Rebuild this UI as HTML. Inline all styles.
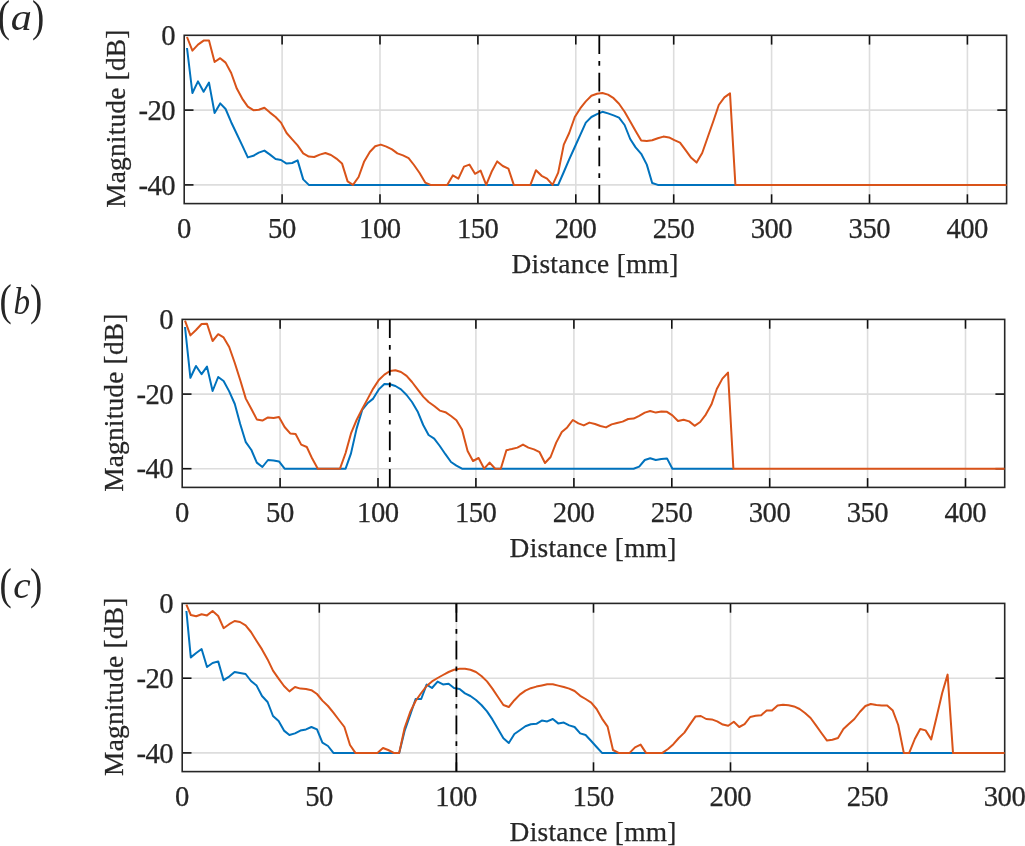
<!DOCTYPE html>
<html><head><meta charset="utf-8"><title>Magnitude vs distance</title>
<style>
html,body{margin:0;padding:0;background:#fff;}
body{width:1025px;height:846px;overflow:hidden;}
svg{display:block;}
svg text{font-family:"Liberation Serif","Times New Roman",serif;font-size:27.4px;fill:#262626;stroke:#262626;stroke-width:0.25px;}
svg text.lt{stroke:none;}
svg text.tk{font-size:28.7px;letter-spacing:-0.5px;}
</style></head><body>
<svg width="1025" height="846" viewBox="0 0 1025 846">
<rect width="1025" height="846" fill="#fff"/>
<line x1="282.1" y1="35.3" x2="282.1" y2="203.6" stroke="#DDDDDD" stroke-width="1.6"/>
<line x1="380.0" y1="35.3" x2="380.0" y2="203.6" stroke="#DDDDDD" stroke-width="1.6"/>
<line x1="477.9" y1="35.3" x2="477.9" y2="203.6" stroke="#DDDDDD" stroke-width="1.6"/>
<line x1="575.8" y1="35.3" x2="575.8" y2="203.6" stroke="#DDDDDD" stroke-width="1.6"/>
<line x1="673.7" y1="35.3" x2="673.7" y2="203.6" stroke="#DDDDDD" stroke-width="1.6"/>
<line x1="771.6" y1="35.3" x2="771.6" y2="203.6" stroke="#DDDDDD" stroke-width="1.6"/>
<line x1="869.5" y1="35.3" x2="869.5" y2="203.6" stroke="#DDDDDD" stroke-width="1.6"/>
<line x1="967.4" y1="35.3" x2="967.4" y2="203.6" stroke="#DDDDDD" stroke-width="1.6"/>
<line x1="184.2" y1="110.1" x2="1006.6" y2="110.1" stroke="#DDDDDD" stroke-width="1.6"/>
<line x1="184.2" y1="184.9" x2="1006.6" y2="184.9" stroke="#DDDDDD" stroke-width="1.6"/>
<text class="tk" x="183.9" y="238.2" text-anchor="middle">0</text>
<line x1="282.1" y1="203.6" x2="282.1" y2="194.3" stroke="#111111" stroke-width="1.6"/>
<line x1="282.1" y1="35.3" x2="282.1" y2="44.6" stroke="#111111" stroke-width="1.6"/>
<text class="tk" x="281.9" y="238.2" text-anchor="middle">50</text>
<line x1="380.0" y1="203.6" x2="380.0" y2="194.3" stroke="#111111" stroke-width="1.6"/>
<line x1="380.0" y1="35.3" x2="380.0" y2="44.6" stroke="#111111" stroke-width="1.6"/>
<text class="tk" x="379.8" y="238.2" text-anchor="middle">100</text>
<line x1="477.9" y1="203.6" x2="477.9" y2="194.3" stroke="#111111" stroke-width="1.6"/>
<line x1="477.9" y1="35.3" x2="477.9" y2="44.6" stroke="#111111" stroke-width="1.6"/>
<text class="tk" x="477.7" y="238.2" text-anchor="middle">150</text>
<line x1="575.8" y1="203.6" x2="575.8" y2="194.3" stroke="#111111" stroke-width="1.6"/>
<line x1="575.8" y1="35.3" x2="575.8" y2="44.6" stroke="#111111" stroke-width="1.6"/>
<text class="tk" x="575.6" y="238.2" text-anchor="middle">200</text>
<line x1="673.7" y1="203.6" x2="673.7" y2="194.3" stroke="#111111" stroke-width="1.6"/>
<line x1="673.7" y1="35.3" x2="673.7" y2="44.6" stroke="#111111" stroke-width="1.6"/>
<text class="tk" x="673.5" y="238.2" text-anchor="middle">250</text>
<line x1="771.6" y1="203.6" x2="771.6" y2="194.3" stroke="#111111" stroke-width="1.6"/>
<line x1="771.6" y1="35.3" x2="771.6" y2="44.6" stroke="#111111" stroke-width="1.6"/>
<text class="tk" x="771.4" y="238.2" text-anchor="middle">300</text>
<line x1="869.5" y1="203.6" x2="869.5" y2="194.3" stroke="#111111" stroke-width="1.6"/>
<line x1="869.5" y1="35.3" x2="869.5" y2="44.6" stroke="#111111" stroke-width="1.6"/>
<text class="tk" x="869.3" y="238.2" text-anchor="middle">350</text>
<line x1="967.4" y1="203.6" x2="967.4" y2="194.3" stroke="#111111" stroke-width="1.6"/>
<line x1="967.4" y1="35.3" x2="967.4" y2="44.6" stroke="#111111" stroke-width="1.6"/>
<text class="tk" x="967.2" y="238.2" text-anchor="middle">400</text>
<text class="tk" x="175.2" y="45.0" text-anchor="end">0</text>
<line x1="184.2" y1="110.1" x2="193.5" y2="110.1" stroke="#111111" stroke-width="1.6"/>
<line x1="1006.6" y1="110.1" x2="997.3" y2="110.1" stroke="#111111" stroke-width="1.6"/>
<text class="tk" x="175.2" y="119.8" text-anchor="end">-20</text>
<line x1="184.2" y1="184.9" x2="193.5" y2="184.9" stroke="#111111" stroke-width="1.6"/>
<line x1="1006.6" y1="184.9" x2="997.3" y2="184.9" stroke="#111111" stroke-width="1.6"/>
<text class="tk" x="175.2" y="194.6" text-anchor="end">-40</text>
<rect x="184.2" y="35.3" width="822.4" height="168.3" fill="none" stroke="#262626" stroke-width="1.6"/>
<polyline points="187.0,48.0 192.4,93.0 198.0,81.4 203.6,91.8 209.0,82.6 214.6,113.0 220.2,103.4 225.6,109.0 231.2,122.2 236.8,134.0 242.2,145.4 247.8,157.4 253.4,155.8 258.8,152.6 264.4,150.6 270.0,154.6 275.6,159.0 281.0,160.0 286.6,163.6 292.2,163.0 297.6,160.4 303.2,179.4 308.8,184.9 558.2,184.9 563.8,172.0 569.2,159.4 574.8,147.0 580.4,134.6 585.8,122.6 591.4,117.0 597.0,114.2 602.4,111.8 608.0,113.4 613.6,115.4 619.0,117.6 624.6,125.0 630.2,139.0 635.6,147.4 641.2,153.8 646.8,164.6 652.2,183.0 657.8,184.9 735.4,184.9" fill="none" stroke="#0072BD" stroke-width="2.0" stroke-linejoin="round"/>
<polyline points="187.0,37.0 192.4,50.6 198.0,44.6 203.6,40.6 209.0,40.4 214.6,62.0 220.2,58.2 225.6,62.6 231.2,73.0 236.8,88.6 242.2,98.6 247.8,106.6 253.4,110.2 258.8,109.8 264.4,107.8 270.0,112.6 275.6,117.0 281.0,122.6 286.6,133.0 292.2,139.4 297.6,145.4 303.2,153.4 308.8,156.6 314.2,157.0 319.8,154.6 325.4,153.0 331.0,155.0 336.4,158.6 342.0,163.4 347.6,181.4 353.0,184.9 358.6,177.0 364.2,161.4 369.8,152.0 375.2,146.2 380.8,144.6 386.4,146.6 392.0,149.4 397.4,153.4 403.0,155.4 408.6,158.2 414.0,165.0 419.6,173.0 425.2,182.6 430.6,184.9 436.2,184.9 441.8,184.9 447.2,184.9 452.8,175.4 458.4,178.6 464.0,166.6 469.4,164.6 475.0,173.8 480.6,170.6 486.2,184.9 491.6,171.8 497.2,161.4 502.8,166.0 508.4,168.6 513.8,184.9 519.4,184.9 525.0,184.9 530.4,184.9 536.0,170.2 541.6,175.8 547.0,178.6 552.6,184.9 558.2,172.6 563.8,144.6 569.2,133.0 574.8,117.0 580.4,108.2 585.8,101.4 591.4,95.8 597.0,93.8 602.4,93.0 608.0,94.6 613.6,98.2 619.0,103.8 624.6,111.8 630.2,121.4 635.6,131.0 641.2,140.6 646.8,141.0 652.2,140.2 657.8,138.2 663.4,136.6 669.0,137.4 674.4,140.2 680.0,142.6 685.6,150.2 691.2,157.8 696.6,162.6 702.2,153.0 707.8,137.0 713.4,121.0 718.8,105.0 724.4,97.4 730.0,93.4 735.4,184.9 1006.6,184.9" fill="none" stroke="#D95319" stroke-width="2.0" stroke-linejoin="round"/>
<line x1="599.3" y1="35.3" x2="599.3" y2="203.6" stroke="#000" stroke-width="1.8" stroke-dasharray="18.7 7 4.7 7"/>
<text x="594.9" y="273.3" text-anchor="middle" textLength="166.8" lengthAdjust="spacing">Distance [mm]</text>
<text transform="translate(124.6,118.7) rotate(-90)" text-anchor="middle" textLength="178.2" lengthAdjust="spacing">Magnitude [dB]</text>
<text class="lt" transform="translate(-2.30,30.80) scale(0.92,1.107)" style="font-size:40px">(</text>
<text class="lt" transform="translate(10.80,30.20) scale(1.14,1)" style="font-size:37px;font-style:italic">a</text>
<text class="lt" transform="translate(32.00,30.80) scale(0.92,1.107)" style="font-size:40px">)</text>
<line x1="280.1" y1="319.4" x2="280.1" y2="487.4" stroke="#DDDDDD" stroke-width="1.6"/>
<line x1="378.0" y1="319.4" x2="378.0" y2="487.4" stroke="#DDDDDD" stroke-width="1.6"/>
<line x1="475.9" y1="319.4" x2="475.9" y2="487.4" stroke="#DDDDDD" stroke-width="1.6"/>
<line x1="573.9" y1="319.4" x2="573.9" y2="487.4" stroke="#DDDDDD" stroke-width="1.6"/>
<line x1="671.8" y1="319.4" x2="671.8" y2="487.4" stroke="#DDDDDD" stroke-width="1.6"/>
<line x1="769.7" y1="319.4" x2="769.7" y2="487.4" stroke="#DDDDDD" stroke-width="1.6"/>
<line x1="867.6" y1="319.4" x2="867.6" y2="487.4" stroke="#DDDDDD" stroke-width="1.6"/>
<line x1="965.5" y1="319.4" x2="965.5" y2="487.4" stroke="#DDDDDD" stroke-width="1.6"/>
<line x1="182.2" y1="394.1" x2="1004.7" y2="394.1" stroke="#DDDDDD" stroke-width="1.6"/>
<line x1="182.2" y1="468.7" x2="1004.7" y2="468.7" stroke="#DDDDDD" stroke-width="1.6"/>
<text class="tk" x="181.9" y="522.0" text-anchor="middle">0</text>
<line x1="280.1" y1="487.4" x2="280.1" y2="478.1" stroke="#111111" stroke-width="1.6"/>
<line x1="280.1" y1="319.4" x2="280.1" y2="328.7" stroke="#111111" stroke-width="1.6"/>
<text class="tk" x="279.9" y="522.0" text-anchor="middle">50</text>
<line x1="378.0" y1="487.4" x2="378.0" y2="478.1" stroke="#111111" stroke-width="1.6"/>
<line x1="378.0" y1="319.4" x2="378.0" y2="328.7" stroke="#111111" stroke-width="1.6"/>
<text class="tk" x="377.8" y="522.0" text-anchor="middle">100</text>
<line x1="475.9" y1="487.4" x2="475.9" y2="478.1" stroke="#111111" stroke-width="1.6"/>
<line x1="475.9" y1="319.4" x2="475.9" y2="328.7" stroke="#111111" stroke-width="1.6"/>
<text class="tk" x="475.7" y="522.0" text-anchor="middle">150</text>
<line x1="573.9" y1="487.4" x2="573.9" y2="478.1" stroke="#111111" stroke-width="1.6"/>
<line x1="573.9" y1="319.4" x2="573.9" y2="328.7" stroke="#111111" stroke-width="1.6"/>
<text class="tk" x="573.6" y="522.0" text-anchor="middle">200</text>
<line x1="671.8" y1="487.4" x2="671.8" y2="478.1" stroke="#111111" stroke-width="1.6"/>
<line x1="671.8" y1="319.4" x2="671.8" y2="328.7" stroke="#111111" stroke-width="1.6"/>
<text class="tk" x="671.5" y="522.0" text-anchor="middle">250</text>
<line x1="769.7" y1="487.4" x2="769.7" y2="478.1" stroke="#111111" stroke-width="1.6"/>
<line x1="769.7" y1="319.4" x2="769.7" y2="328.7" stroke="#111111" stroke-width="1.6"/>
<text class="tk" x="769.5" y="522.0" text-anchor="middle">300</text>
<line x1="867.6" y1="487.4" x2="867.6" y2="478.1" stroke="#111111" stroke-width="1.6"/>
<line x1="867.6" y1="319.4" x2="867.6" y2="328.7" stroke="#111111" stroke-width="1.6"/>
<text class="tk" x="867.4" y="522.0" text-anchor="middle">350</text>
<line x1="965.5" y1="487.4" x2="965.5" y2="478.1" stroke="#111111" stroke-width="1.6"/>
<line x1="965.5" y1="319.4" x2="965.5" y2="328.7" stroke="#111111" stroke-width="1.6"/>
<text class="tk" x="965.3" y="522.0" text-anchor="middle">400</text>
<text class="tk" x="173.2" y="329.1" text-anchor="end">0</text>
<line x1="182.2" y1="394.1" x2="191.5" y2="394.1" stroke="#111111" stroke-width="1.6"/>
<line x1="1004.7" y1="394.1" x2="995.4" y2="394.1" stroke="#111111" stroke-width="1.6"/>
<text class="tk" x="173.2" y="403.8" text-anchor="end">-20</text>
<line x1="182.2" y1="468.7" x2="191.5" y2="468.7" stroke="#111111" stroke-width="1.6"/>
<line x1="1004.7" y1="468.7" x2="995.4" y2="468.7" stroke="#111111" stroke-width="1.6"/>
<text class="tk" x="173.2" y="478.4" text-anchor="end">-40</text>
<rect x="182.2" y="319.4" width="822.5" height="168.0" fill="none" stroke="#262626" stroke-width="1.6"/>
<polyline points="185.0,327.0 190.4,377.8 196.0,366.0 201.6,374.2 207.0,366.6 212.6,391.0 218.2,377.0 223.6,381.0 229.2,391.4 234.8,404.0 240.2,424.0 245.8,442.2 251.4,450.0 256.8,462.6 262.4,467.0 268.0,460.0 273.6,460.4 279.0,461.4 284.6,468.7 345.6,468.7 351.0,453.4 356.6,428.6 362.2,410.0 367.8,403.0 373.2,398.6 378.8,389.4 384.4,384.0 390.0,384.2 395.4,386.0 401.0,389.4 406.6,395.0 412.0,402.0 417.6,411.4 423.2,425.0 428.6,435.0 434.2,438.6 439.8,446.0 445.4,454.2 451.0,462.0 456.4,465.6 462.0,468.7 633.6,468.7 639.2,466.6 644.8,460.0 650.2,458.2 655.8,460.0 661.4,459.0 667.0,458.4 672.4,468.7 733.4,468.7" fill="none" stroke="#0072BD" stroke-width="2.0" stroke-linejoin="round"/>
<polyline points="185.0,320.6 190.4,335.4 196.0,330.0 201.6,324.0 207.0,323.8 212.6,341.0 218.2,334.2 223.6,337.4 229.2,347.0 234.8,363.0 240.2,380.0 245.8,398.6 251.4,409.0 256.8,419.4 262.4,420.6 268.0,417.4 273.6,418.0 279.0,417.0 284.6,427.0 290.2,433.4 295.6,434.0 301.2,444.6 306.8,447.0 312.2,458.6 317.8,468.7 323.4,468.7 329.0,468.7 334.4,468.7 340.0,468.7 345.6,453.0 351.0,433.4 356.6,420.0 362.2,409.0 367.8,398.6 373.2,388.6 378.8,380.0 384.4,374.6 390.0,371.0 395.4,370.2 401.0,372.0 406.6,375.8 412.0,382.0 417.6,389.4 423.2,396.6 428.6,402.0 434.2,406.0 439.8,410.6 445.4,412.2 451.0,416.0 456.4,420.2 462.0,429.4 467.6,451.0 473.0,461.0 478.6,458.0 484.2,468.7 489.6,462.6 495.2,468.7 500.8,468.7 506.4,450.2 511.8,449.0 517.4,447.6 523.0,444.6 528.4,447.6 534.0,449.4 539.6,452.2 545.0,463.0 550.6,457.0 556.2,442.6 561.8,432.0 567.2,427.4 572.8,420.0 578.4,423.4 583.8,425.4 589.4,422.6 595.0,424.0 600.4,426.0 606.0,427.4 611.6,424.4 617.0,423.0 622.6,421.6 628.2,419.0 633.6,418.6 639.2,415.8 644.8,412.6 650.2,411.0 655.8,412.6 661.4,411.6 667.0,411.8 672.4,415.4 678.0,421.0 683.6,419.8 689.2,421.4 694.6,425.8 700.2,422.0 705.8,414.6 711.4,404.6 716.8,389.0 722.4,378.6 728.0,372.6 733.4,468.7 1004.6,468.7" fill="none" stroke="#D95319" stroke-width="2.0" stroke-linejoin="round"/>
<line x1="389.8" y1="319.4" x2="389.8" y2="487.4" stroke="#000" stroke-width="1.8" stroke-dasharray="18.7 7 4.7 7"/>
<text x="593.0" y="557.1" text-anchor="middle" textLength="166.8" lengthAdjust="spacing">Distance [mm]</text>
<text transform="translate(122.6,402.7) rotate(-90)" text-anchor="middle" textLength="178.2" lengthAdjust="spacing">Magnitude [dB]</text>
<text class="lt" transform="translate(-0.60,314.90) scale(0.92,1.107)" style="font-size:40px">(</text>
<text class="lt" transform="translate(13.40,314.30) scale(0.86,1)" style="font-size:38.6px;font-style:italic">b</text>
<text class="lt" transform="translate(30.00,314.90) scale(0.92,1.107)" style="font-size:40px">)</text>
<line x1="319.3" y1="603.4" x2="319.3" y2="771.6" stroke="#DDDDDD" stroke-width="1.6"/>
<line x1="456.4" y1="603.4" x2="456.4" y2="771.6" stroke="#DDDDDD" stroke-width="1.6"/>
<line x1="593.5" y1="603.4" x2="593.5" y2="771.6" stroke="#DDDDDD" stroke-width="1.6"/>
<line x1="730.5" y1="603.4" x2="730.5" y2="771.6" stroke="#DDDDDD" stroke-width="1.6"/>
<line x1="867.6" y1="603.4" x2="867.6" y2="771.6" stroke="#DDDDDD" stroke-width="1.6"/>
<line x1="182.2" y1="678.2" x2="1004.7" y2="678.2" stroke="#DDDDDD" stroke-width="1.6"/>
<line x1="182.2" y1="752.9" x2="1004.7" y2="752.9" stroke="#DDDDDD" stroke-width="1.6"/>
<text class="tk" x="181.9" y="806.2" text-anchor="middle">0</text>
<line x1="319.3" y1="771.6" x2="319.3" y2="762.3" stroke="#111111" stroke-width="1.6"/>
<line x1="319.3" y1="603.4" x2="319.3" y2="612.7" stroke="#111111" stroke-width="1.6"/>
<text class="tk" x="319.0" y="806.2" text-anchor="middle">50</text>
<line x1="456.4" y1="771.6" x2="456.4" y2="762.3" stroke="#111111" stroke-width="1.6"/>
<line x1="456.4" y1="603.4" x2="456.4" y2="612.7" stroke="#111111" stroke-width="1.6"/>
<text class="tk" x="456.1" y="806.2" text-anchor="middle">100</text>
<line x1="593.5" y1="771.6" x2="593.5" y2="762.3" stroke="#111111" stroke-width="1.6"/>
<line x1="593.5" y1="603.4" x2="593.5" y2="612.7" stroke="#111111" stroke-width="1.6"/>
<text class="tk" x="593.2" y="806.2" text-anchor="middle">150</text>
<line x1="730.5" y1="771.6" x2="730.5" y2="762.3" stroke="#111111" stroke-width="1.6"/>
<line x1="730.5" y1="603.4" x2="730.5" y2="612.7" stroke="#111111" stroke-width="1.6"/>
<text class="tk" x="730.3" y="806.2" text-anchor="middle">200</text>
<line x1="867.6" y1="771.6" x2="867.6" y2="762.3" stroke="#111111" stroke-width="1.6"/>
<line x1="867.6" y1="603.4" x2="867.6" y2="612.7" stroke="#111111" stroke-width="1.6"/>
<text class="tk" x="867.4" y="806.2" text-anchor="middle">250</text>
<text class="tk" x="1004.5" y="806.2" text-anchor="middle">300</text>
<text class="tk" x="173.2" y="613.1" text-anchor="end">0</text>
<line x1="182.2" y1="678.2" x2="191.5" y2="678.2" stroke="#111111" stroke-width="1.6"/>
<line x1="1004.7" y1="678.2" x2="995.4" y2="678.2" stroke="#111111" stroke-width="1.6"/>
<text class="tk" x="173.2" y="687.9" text-anchor="end">-20</text>
<line x1="182.2" y1="752.9" x2="191.5" y2="752.9" stroke="#111111" stroke-width="1.6"/>
<line x1="1004.7" y1="752.9" x2="995.4" y2="752.9" stroke="#111111" stroke-width="1.6"/>
<text class="tk" x="173.2" y="762.6" text-anchor="end">-40</text>
<rect x="182.2" y="603.4" width="822.5" height="168.2" fill="none" stroke="#262626" stroke-width="1.6"/>
<polyline points="186.4,611.0 190.8,657.4 196.2,653.0 201.6,649.0 207.0,667.0 212.6,663.0 218.2,661.4 223.6,680.2 229.2,676.6 234.6,672.0 240.0,673.0 245.6,674.0 251.0,681.0 256.6,685.6 262.0,696.0 267.6,702.0 273.0,716.0 278.6,721.0 284.0,730.6 289.4,735.0 295.0,733.4 300.4,730.6 306.0,729.4 311.4,727.0 317.0,729.4 322.4,742.6 328.0,746.0 333.4,752.9 393.8,752.9 399.2,752.9 404.6,731.0 410.2,715.0 415.6,699.0 421.2,699.0 426.6,684.6 432.0,688.0 437.6,681.6 443.0,684.4 448.6,683.8 454.0,688.0 459.6,689.0 465.0,693.4 470.4,696.0 476.0,700.0 481.4,705.0 487.0,711.4 492.4,719.4 498.0,729.0 503.4,738.2 508.8,743.0 514.4,734.0 519.8,730.2 525.4,726.2 530.8,724.2 536.4,723.8 541.8,720.6 547.2,721.4 552.8,719.0 558.2,723.4 563.8,722.6 569.2,725.4 574.6,727.0 580.2,733.4 585.6,735.0 591.2,741.0 596.6,747.0 602.0,752.9 953.0,752.9" fill="none" stroke="#0072BD" stroke-width="2.0" stroke-linejoin="round"/>
<polyline points="186.4,604.6 190.8,615.0 196.2,616.2 201.6,614.2 207.0,615.4 212.6,611.0 218.2,616.0 223.6,628.2 229.2,624.2 234.6,621.0 240.0,622.0 245.6,625.4 251.0,632.0 256.6,641.0 262.0,649.4 267.6,659.4 273.0,670.6 278.6,678.6 284.0,686.0 289.4,691.4 295.0,687.0 300.4,688.6 306.0,689.0 311.4,690.2 317.0,694.0 322.4,700.6 328.0,706.0 333.4,712.6 339.0,720.0 344.4,727.0 350.0,745.0 355.4,752.9 361.0,752.9 366.4,752.9 372.0,752.9 377.4,752.9 383.0,748.0 388.2,750.0 393.8,752.9 399.2,752.9 404.6,728.0 410.2,712.0 415.6,701.0 421.2,693.0 426.6,686.0 432.0,681.4 437.6,678.0 443.0,675.0 448.6,672.0 454.0,669.8 459.6,668.8 465.0,668.8 470.4,669.8 476.0,672.0 481.4,676.0 487.0,681.4 492.4,688.6 498.0,697.0 503.4,705.0 508.8,707.0 514.4,700.2 519.8,694.6 525.4,690.6 530.8,688.2 536.4,686.6 541.8,685.4 547.2,684.2 552.8,684.2 558.2,685.6 563.8,687.0 569.2,688.6 574.6,691.0 580.2,695.8 585.6,699.0 591.2,702.6 596.6,709.0 602.0,718.6 607.6,726.6 613.0,750.0 618.6,752.9 624.0,752.9 629.6,752.9 635.0,747.4 640.6,744.6 646.0,752.9 651.4,752.9 657.0,752.9 662.4,752.9 668.0,749.0 673.4,744.2 678.8,738.0 684.4,732.6 689.8,724.6 695.4,716.6 700.8,716.0 706.2,719.0 711.8,719.4 717.2,721.4 722.8,724.6 728.2,725.8 733.8,721.8 739.2,727.0 744.6,724.2 750.2,717.0 755.6,715.8 761.2,715.2 766.6,710.4 772.0,710.6 777.6,705.4 783.0,704.8 788.6,705.2 794.0,706.4 799.6,709.0 805.0,713.0 810.6,718.0 816.0,725.4 821.4,733.0 827.0,740.6 832.4,739.8 838.0,738.0 843.4,729.0 848.8,724.0 854.4,719.0 859.8,712.0 865.4,706.0 870.8,704.0 876.4,705.0 881.8,705.4 887.2,705.4 892.8,710.6 898.2,725.0 903.8,752.9 909.2,752.9 914.8,739.0 920.2,729.0 925.6,730.4 931.2,739.4 936.6,717.0 942.2,693.0 947.6,674.6 953.0,752.9 1004.6,752.9" fill="none" stroke="#D95319" stroke-width="2.0" stroke-linejoin="round"/>
<line x1="456.4" y1="603.4" x2="456.4" y2="771.6" stroke="#000" stroke-width="1.8" stroke-dasharray="18.7 7 4.7 7"/>
<text x="593.0" y="841.3" text-anchor="middle" textLength="166.8" lengthAdjust="spacing">Distance [mm]</text>
<text transform="translate(122.6,686.8) rotate(-90)" text-anchor="middle" textLength="178.2" lengthAdjust="spacing">Magnitude [dB]</text>
<text class="lt" transform="translate(-0.60,598.90) scale(0.92,1.107)" style="font-size:40px">(</text>
<text class="lt" transform="translate(13.20,598.30) scale(1.06,1)" style="font-size:37px;font-style:italic">c</text>
<text class="lt" transform="translate(30.00,598.90) scale(0.92,1.107)" style="font-size:40px">)</text>
</svg>
</body></html>
